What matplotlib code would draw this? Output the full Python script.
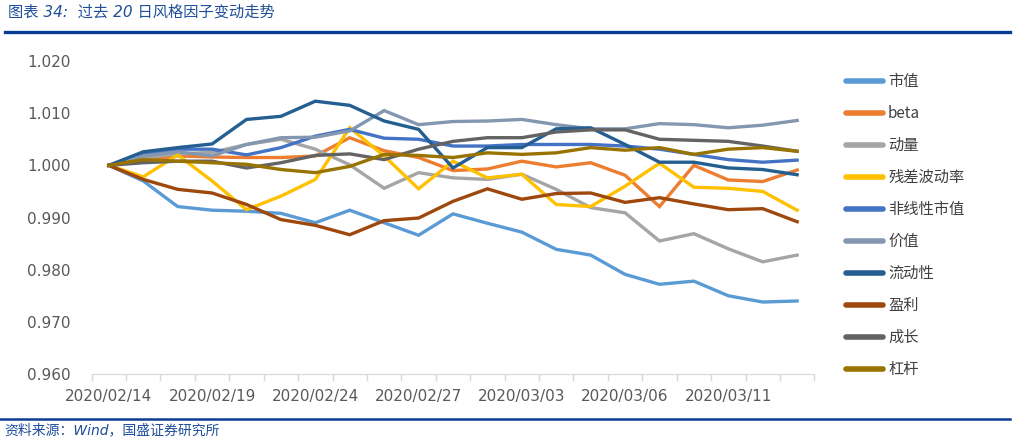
import matplotlib.pyplot as plt
from matplotlib.lines import Line2D

plt.rcParams['font.family'] = ['DejaVu Sans', 'Noto Sans CJK SC']

# 交易日（横轴类别）
dates = ['2020/02/14', '2020/02/17', '2020/02/18', '2020/02/19', '2020/02/20',
         '2020/02/21', '2020/02/24', '2020/02/25', '2020/02/26', '2020/02/27',
         '2020/02/28', '2020/03/02', '2020/03/03', '2020/03/04', '2020/03/05',
         '2020/03/06', '2020/03/09', '2020/03/10', '2020/03/11', '2020/03/12',
         '2020/03/13']

# 各风格因子净值
size = [1.0000, 0.9970, 0.9921, 0.9914, 0.9912, 0.9908, 0.9890, 0.9914, 0.9890, 0.9866,
        0.9907, 0.9889, 0.9872, 0.9839, 0.9828, 0.9791, 0.9772, 0.9778, 0.9750, 0.9738, 0.9740]
beta = [1.0000, 1.0010, 1.0018, 1.0016, 1.0015, 1.0015, 1.0018, 1.0053, 1.0028, 1.0015,
        0.9990, 0.9993, 1.0008, 0.9997, 1.0005, 0.9981, 0.9921, 1.0000, 0.9972, 0.9969, 0.9991]
momentum = [1.0000, 1.0015, 1.0022, 1.0025, 1.0040, 1.0050, 1.0031, 1.0001, 0.9956, 0.9986,
            0.9976, 0.9973, 0.9983, 0.9954, 0.9919, 0.9909, 0.9855, 0.9869, 0.9840, 0.9815, 0.9828]
resvol = [1.0000, 0.9978, 1.0020, 0.9970, 0.9915, 0.9941, 0.9973, 1.0072, 1.0018, 0.9955,
          1.0008, 0.9976, 0.9983, 0.9925, 0.9921, 0.9960, 1.0004, 0.9958, 0.9956, 0.9950, 0.9914]
nlsize = [1.0000, 1.0021, 1.0031, 1.0031, 1.0020, 1.0034, 1.0056, 1.0069, 1.0052, 1.0050,
          1.0037, 1.0037, 1.0040, 1.0040, 1.0040, 1.0037, 1.0031, 1.0021, 1.0011, 1.0006, 1.0010]
value = [1.0000, 1.0018, 1.0026, 1.0018, 1.0040, 1.0053, 1.0054, 1.0066, 1.0105, 1.0078,
         1.0084, 1.0085, 1.0088, 1.0078, 1.0070, 1.0070, 1.0080, 1.0078, 1.0072, 1.0077, 1.0086]
liquidity = [1.0000, 1.0026, 1.0034, 1.0041, 1.0088, 1.0094, 1.0123, 1.0115, 1.0085, 1.0069,
             0.9995, 1.0034, 1.0034, 1.0070, 1.0072, 1.0040, 1.0006, 1.0006, 0.9995, 0.9992, 0.9982]
earnings = [1.0000, 0.9973, 0.9954, 0.9947, 0.9925, 0.9896, 0.9885, 0.9867, 0.9894, 0.9899,
            0.9931, 0.9955, 0.9935, 0.9946, 0.9947, 0.9929, 0.9938, 0.9926, 0.9915, 0.9917, 0.9892]
growth = [1.0000, 1.0005, 1.0008, 1.0008, 0.9995, 1.0005, 1.0019, 1.0022, 1.0011, 1.0031,
          1.0046, 1.0053, 1.0053, 1.0064, 1.0068, 1.0068, 1.0050, 1.0048, 1.0046, 1.0037, 1.0027]
leverage = [1.0000, 1.0011, 1.0008, 1.0005, 1.0002, 0.9992, 0.9986, 0.9998, 1.0021, 1.0019,
            1.0015, 1.0024, 1.0021, 1.0024, 1.0034, 1.0029, 1.0034, 1.0021, 1.0031, 1.0034, 1.0027]

series = [
    ('市值', size, '#5B9BD5'),
    ('beta', beta, '#ED7D31'),
    ('动量', momentum, '#A5A5A5'),
    ('残差波动率', resvol, '#FFC000'),
    ('非线性市值', nlsize, '#4472C4'),
    ('价值', value, '#8497B0'),
    ('流动性', liquidity, '#255E91'),
    ('盈利', earnings, '#9E480E'),
    ('成长', growth, '#636363'),
    ('杠杆', leverage, '#997300'),
]

fig = plt.figure(figsize=(10.15, 4.46), dpi=100)
ax = fig.add_axes([0.0903, 0.1614, 0.712, 0.7018])

x = list(range(len(dates)))
for name, vals, color in series:
    ax.plot(x, vals, color=color, lw=2.4, solid_joinstyle='miter', label=name)

ax.set_xlim(-0.5, len(dates) - 0.5)
ax.set_ylim(0.960, 1.020)
ax.set_yticks([0.960, 0.970, 0.980, 0.990, 1.000, 1.010, 1.020])
ax.set_yticklabels(['%.3f' % v for v in ax.get_yticks()])
ax.set_xticks(x[::3])
ax.set_xticklabels(dates[::3])
ax.set_xticks([i - 0.5 for i in range(len(dates) + 1)], minor=True)
ax.tick_params(axis='x', which='major', length=0, pad=11, labelsize=11, labelcolor='#595959')
ax.tick_params(axis='x', which='minor', length=5, color='#D9D9D9', width=1)
ax.tick_params(axis='y', length=0, pad=15, labelsize=11, labelcolor='#595959')
for s in ['top', 'right', 'left']:
    ax.spines[s].set_visible(False)
ax.spines['bottom'].set_color('#D9D9D9')

handles = [Line2D([], [], color=c, lw=4, solid_capstyle='round') for _, _, c in series]
leg = fig.legend(handles, [n for n, _, _ in series], loc='upper left',
                 bbox_to_anchor=(0.826, 0.853), frameon=False, borderpad=0,
                 handlelength=2.45, handletextpad=0.3, labelspacing=0.98,
                 prop={'family': ['Noto Sans CJK SC'], 'size': 11})
for t in leg.get_texts():
    t.set_color('#404040')

# 标题与来源
blue = '#1F4E9A'
fig.text(0.008, 0.972, '图表 34:  过去 20 日风格因子变动走势', color=blue, fontsize=11,
         style='italic', va='center', ha='left')
fig.add_artist(Line2D([0.005, 0.995], [0.928, 0.928], color='#0A3D91', lw=2.4))
fig.add_artist(Line2D([0.0, 0.995], [0.061, 0.061], color='#0A3D91', lw=1.8))
fig.text(0.004, 0.035, '资料来源：Wind，国盛证券研究所', color=blue, fontsize=10,
         style='italic', va='center', ha='left')

fig.savefig('out.png', dpi=100)
